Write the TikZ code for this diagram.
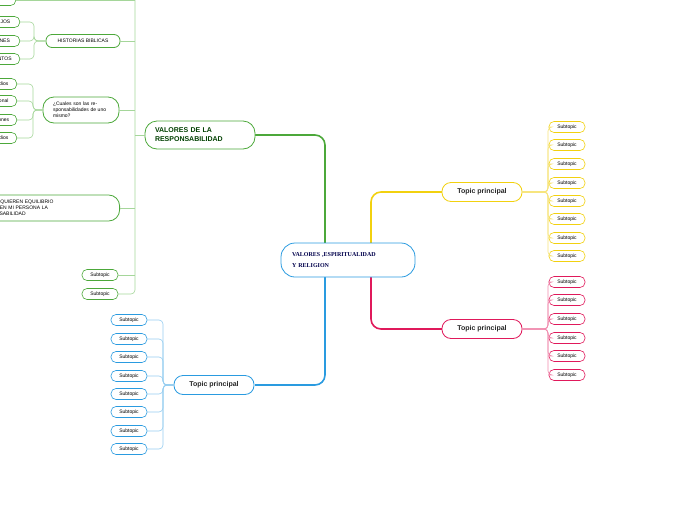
\documentclass[tikz,border=0pt]{standalone}
\usepackage{fontspec}
\setmainfont{Liberation Sans}
\newfontfamily\serifb{Liberation Serif}
\begin{document}
\begin{tikzpicture}[x=1pt,y=-1pt,
 box/.style={draw,rounded corners=6pt,line width=0.8pt,fill=white,inner sep=2pt,align=left},
 sub/.style={draw,rounded corners=5pt,line width=0.6pt,fill=white,minimum width=36pt,minimum height=11pt,inner sep=1pt,font=\fontsize{5}{5}\selectfont},
 topic/.style={draw,rounded corners=9pt,line width=0.8pt,fill=white,minimum width=80pt,minimum height=19pt,font=\fontsize{7}{7}\selectfont\bfseries,text=black!85},
 lnk/.style={line width=0.6pt,rounded corners=4pt},
 big/.style={line width=1.6pt,rounded corners=10pt}]
\useasboundingbox (0,0) rectangle (697,520);
\clip (0,0) rectangle (697,520);
\definecolor{gr}{HTML}{4CA83A}\definecolor{grl}{HTML}{A5D69A}
\definecolor{ye}{HTML}{F2D10F}\definecolor{yel}{HTML}{F7E47A}
\definecolor{pk}{HTML}{E0195B}\definecolor{pkl}{HTML}{F08BAE}
\definecolor{bl}{HTML}{2A9BE0}\definecolor{bll}{HTML}{96CDF0}
\draw[big,gr] (325,250) -- (325,135) -- (255,135);
\draw[big,ye] (371,250) -- (371,192) -- (442,192);
\draw[big,pk] (371,270) -- (371,329) -- (442,329);
\draw[big,bl] (325,270) -- (325,385) -- (255,385);
\node[draw=bl,line width=0.8pt,fill=white,rounded corners=14pt,minimum width=134pt,minimum height=34pt,text width=112pt,align=left,font=\serifb\fontsize{6}{11}\selectfont\bfseries,text=blue!30!black] (c) at (348,260) {VALORES ,ESPIRITUALIDAD\\Y RELIGION};
\node[topic,draw=gr,minimum width=110pt,minimum height=28pt,rounded corners=12pt,text width=90pt,align=left,text=green!25!black,font=\fontsize{7}{9}\selectfont\bfseries] (vr) at (200,135) {VALORES DE LA\\RESPONSABILIDAD};
\coordinate (gt) at (135,0);
\draw[lnk,grl] (vr.west) -- (135,135);
\node[box,draw=gr,minimum width=74pt,minimum height=13pt,font=\fontsize{5}{5}\selectfont] (hb) at (83,41) {HISTORIAS BIBLICAS};
\node[box,draw=gr,minimum width=76pt,minimum height=26pt,rounded corners=11pt,text width=56pt,font=\fontsize{5}{6}\selectfont] (cu) at (81,110) {\hyphenpenalty=10000\relax ¿Cuales son las responsabilidades de uno mismo?};
\node[box,draw=gr,minimum height=26pt,rounded corners=11pt,anchor=east,text width=160pt,font=\fontsize{5}{6}\selectfont] (bs) at (120,208) {BASICAS QUE REQUIEREN EQUILIBRIO\\ERSONA SEGUN EN MI PERSONA LA\\L DE LA RESPONSABILIDAD};
\node[sub,draw=gr] (gs1) at (100,275) {Subtopic};
\node[sub,draw=gr] (gs2) at (100,294) {Subtopic};
\foreach \n in {hb,cu,bs,gs1} \draw[lnk,grl] (\n.east) -- (\n.east -| gt);
\draw[lnk,grl] (135,-5) |- (gs2.east);
\node[sub,draw=gr,anchor=east,minimum width=40pt] (t0) at (16,0) {};
\draw[lnk,grl] (t0.east) -- (t0.east -| gt);
\coordinate (ht) at (34,0);
\foreach \yy/\t [count=\i] in {22/IJOS,41/NES,59/NTOS}{
 \node[sub,draw=gr,anchor=east,minimum width=40pt] (h\i) at (20,\yy) {\hspace*{10pt}\t};
 \draw[lnk,grl] (hb.west) -- (hb.west -| ht) |- (h\i.east);}
\coordinate (ct) at (33,0);
\foreach \yy/\t [count=\i] in {84/dios,101/onal,120/ones,138/dios}{
 \node[sub,draw=gr,anchor=east,minimum width=40pt] (q\i) at (17,\yy) {\hspace*{14pt}\t};
 \draw[lnk,grl] (cu.west) -- (cu.west -| ct) |- (q\i.east);}
\node[topic,draw=ye] (ty) at (482,192) {Topic principal};
\coordinate (yt) at (548,0);
\foreach \yy [count=\i] in {127,145,164,183,201,219,238,256}{
 \node[sub,draw=ye] (y\i) at (567,\yy) {Subtopic};
 \draw[lnk,yel] (ty.east) -- (ty.east -| yt) |- (y\i.west);}
\node[topic,draw=pk] (tp) at (482,329) {Topic principal};
\foreach \yy [count=\i] in {282,300,319,338,356,375}{
 \node[sub,draw=pk] (p\i) at (567,\yy) {Subtopic};
 \draw[lnk,pkl] (tp.east) -- (tp.east -| yt) |- (p\i.west);}
\node[topic,draw=bl] (tb) at (214,385) {Topic principal};
\coordinate (bt) at (163,0);
\foreach \yy [count=\i] in {320,339,357,376,394,412,431,449}{
 \node[sub,draw=bl] (b\i) at (129,\yy) {Subtopic};
 \draw[lnk,bll] (tb.west) -- (tb.west -| bt) |- (b\i.east);}
\end{tikzpicture}
\end{document}
